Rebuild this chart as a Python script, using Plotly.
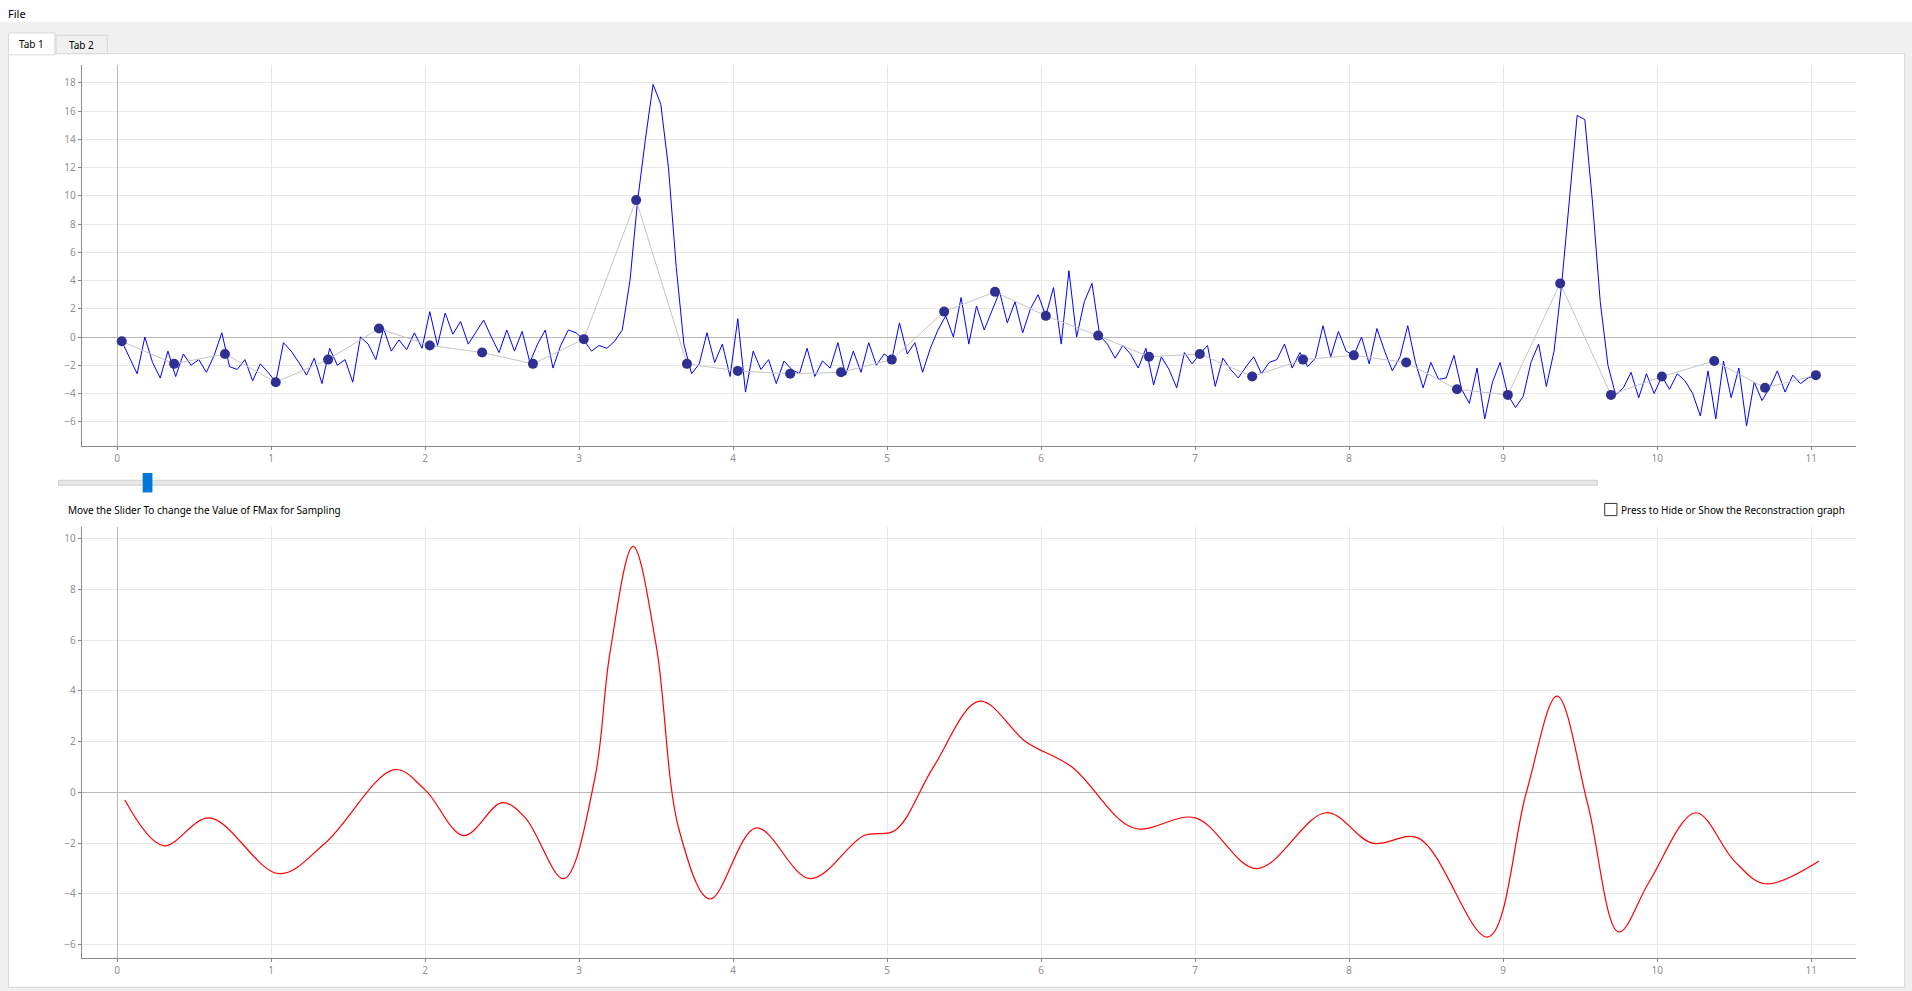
import plotly.graph_objects as go

# sampled signal (blue) at 0.05 steps from 0.03
signal_start = 0.03
signal_step = 0.05
signal = [
    -0.3, -1.5, -2.6, 0.0, -1.8, -2.9, -1.0, -2.8, -1.2, -2.0, -1.6, -2.5, -1.3, 0.3, -2.1, -2.3, -1.6, -3.1, -1.9, -2.5,
    -3.2, -0.4, -1.0, -1.8, -2.7, -1.5, -3.3, -0.8, -2.0, -1.6, -3.2, 0.0, -0.5, -1.6, 0.6, -1.0, -0.2, -0.9, 0.3, -0.8,
    1.8, -0.6, 1.7, 0.2, 1.1, -0.5, 0.4, 1.2, 0.0, -1.1, 0.5, -1.0, 0.4, -1.8, -0.5, 0.5, -2.2, -0.6, 0.5, 0.3,
    -0.2, -1.0, -0.6, -0.8, -0.3, 0.5, 4.0, 9.7, 14.0, 17.9, 16.5, 12.0, 5.0, -0.5, -2.6, -1.9, 0.3, -1.8, -0.5, -2.8,
    1.3, -3.9, -1.0, -2.3, -1.6, -3.3, -1.7, -2.3, -2.6, -0.8, -2.8, -1.7, -2.2, -0.4, -2.7, -1.0, -2.5, -0.4, -2.0, -1.2,
    -1.6, 1.0, -1.2, -0.4, -2.5, -0.8, 0.5, 1.5, 0.0, 2.8, -0.5, 2.2, 0.5, 1.8, 3.2, 1.0, 2.5, 0.3, 2.0, 3.0,
    1.5, 3.5, -0.5, 4.7, 0.0, 2.5, 3.8, 0.1, -0.5, -1.5, -0.6, -1.2, -2.2, -0.8, -3.4, -1.4, -2.3, -3.6, -1.1, -1.9,
    -1.2, -0.6, -3.5, -1.5, -2.3, -2.9, -2.1, -1.4, -2.6, -1.8, -1.6, -0.5, -2.2, -1.1, -2.1, -1.5, 0.8, -1.4, 0.4, -1.0,
    -1.3, 0.0, -1.9, 0.6, -1.0, -2.4, -1.4, 0.8, -1.8, -3.6, -1.8, -3.0, -2.9, -1.3, -3.7, -4.7, -2.2, -5.8, -3.2, -1.8,
    -4.1, -5.0, -4.2, -1.8, -0.5, -3.5, -1.0, 3.8, 10.0, 15.7, 15.4, 9.5, 2.5, -2.0, -4.1, -3.6, -2.5, -4.3, -2.6, -4.0,
    -2.8, -3.7, -2.6, -3.1, -4.0, -5.6, -2.4, -5.8, -1.7, -4.3, -2.2, -6.3, -3.2, -4.5, -3.6, -2.4, -3.9, -2.7, -3.3, -2.9,
    -2.7,
]
signal_x = [round(signal_start + i * signal_step, 3) for i in range(len(signal))]

sample_x = [0.03, 0.37, 0.70, 1.03, 1.37, 1.70, 2.03, 2.37, 2.70, 3.03, 3.37, 3.70, 4.03, 4.37, 4.70, 5.03, 5.37,
            5.70, 6.03, 6.37, 6.70, 7.03, 7.37, 7.70, 8.03, 8.37, 8.70, 9.03, 9.37, 9.70, 10.03, 10.37, 10.70, 11.03]
sample_y = [-0.3, -1.9, -1.2, -3.2, -1.6, 0.6, -0.6, -1.1, -1.9, -0.15, 9.7, -1.9, -2.4, -2.6, -2.5, -1.6, 1.8,
            3.2, 1.5, 0.1, -1.4, -1.2, -2.8, -1.6, -1.3, -1.8, -3.7, -4.1, 3.8, -4.1, -2.8, -1.7, -3.6, -2.7]

recon_x = [0.05, 0.3, 0.6, 1.05, 1.35, 1.8, 2.0, 2.25, 2.5, 2.65, 2.9, 3.1, 3.2, 3.35, 3.5, 3.65, 3.85,
           4.15, 4.5, 4.85, 5.05, 5.3, 5.6, 5.9, 6.2, 6.6, 7.0, 7.4, 7.85, 8.15, 8.45, 8.9, 9.15, 9.35, 9.55,
           9.75, 9.95, 10.25, 10.5, 10.7, 11.05]
recon_y = [-0.3, -2.1, -1.0, -3.2, -2.0, 0.9, 0.1, -1.7, -0.4, -1.0, -3.4, 0.5, 5.5, 9.7, 5.8, -1.5, -4.2,
           -1.4, -3.4, -1.7, -1.5, 1.0, 3.6, 2.0, 1.0, -1.4, -1.0, -3.0, -0.8, -2.0, -1.8, -5.7, 0.0, 3.8, -0.5,
           -5.5, -3.5, -0.8, -2.7, -3.6, -2.7]

x_ticks = list(range(12))
top_ticks = list(range(-6, 19, 2))
bottom_ticks = list(range(-6, 11, 2))

W, H = 1568.0, 813.0


def px(v):
    return v / W


def py(v):
    return 1 - v / H


fig = go.Figure()
fig.add_trace(go.Scatter(x=signal_x, y=signal, mode="lines", line=dict(color="#0000ff", width=1),
                         xaxis="x", yaxis="y", hoverinfo="skip"))
fig.add_trace(go.Scatter(x=sample_x, y=sample_y, mode="lines+markers", line=dict(color="#c4c4c4", width=1),
                         marker=dict(color="#2e3192", size=10), xaxis="x", yaxis="y"))
fig.add_trace(go.Scatter(x=recon_x, y=recon_y, mode="lines", line=dict(color="#ff0000", width=1.2, shape="spline",
                         smoothing=1.0), xaxis="x2", yaxis="y2"))

tick_font = dict(family="Noto Sans", size=10, color="#909090")
ax_common = dict(showgrid=True, gridcolor="#e8e8e8", showline=True, linecolor="#8a8a8a", linewidth=1,
                 zeroline=True, zerolinecolor="#b8b8b8", zerolinewidth=1, tickfont=tick_font,
                 ticks="outside", ticklen=3, tickcolor="#8a8a8a", fixedrange=True)
xr = [-0.23, 11.29]

shapes = [
    dict(type="rect", xref="paper", yref="paper", x0=0, x1=1, y0=0, y1=py(18), fillcolor="#f0f0f0",
         line=dict(width=0), layer="below"),
    dict(type="rect", xref="paper", yref="paper", x0=px(7), x1=px(1562), y0=py(810), y1=py(44),
         fillcolor="#ffffff", line=dict(color="#d9d9d9", width=1), layer="below"),
    dict(type="rect", xref="paper", yref="paper", x0=px(46), x1=px(88), y0=py(44), y1=py(29),
         fillcolor="#f0f0f0", line=dict(color="#d9d9d9", width=1), layer="below"),
    dict(type="rect", xref="paper", yref="paper", x0=px(7), x1=px(45), y0=py(45), y1=py(27),
         fillcolor="#ffffff", line=dict(color="#d9d9d9", width=1), layer="below"),
    # slider groove and handle
    dict(type="rect", xref="paper", yref="paper", x0=px(48), x1=px(1310), y0=py(398), y1=py(394),
         fillcolor="#e7e7e7", line=dict(color="#d0d0d0", width=1)),
    dict(type="rect", xref="paper", yref="paper", x0=px(117), x1=px(125), y0=py(404), y1=py(388),
         fillcolor="#0078d7", line=dict(width=0)),
    # checkbox
    dict(type="rect", xref="paper", yref="paper", x0=px(1316), x1=px(1326), y0=py(423), y1=py(413),
         fillcolor="#ffffff", line=dict(color="#333333", width=1)),
]

txt = dict(family="Noto Sans", size=10, color="#000000")


def label(text, x, y, anchor="left", font=txt):
    return dict(text=text, x=px(x), y=py(y), xref="paper", yref="paper", xanchor=anchor,
                yanchor="middle", showarrow=False, font=font)


annotations = [
    label("File", 5, 11, font=dict(family="Noto Sans", size=11, color="#000000")),
    label("Tab 1", 26, 36, anchor="center"),
    label("Tab 2", 67, 37, anchor="center"),
    label("Move the Slider To change the Value of FMax for Sampling", 54, 418),
    label("Press to Hide or Show the Reconstraction graph", 1328, 418),
]

fig.update_layout(
    width=1912, height=991, margin=dict(l=0, r=0, t=0, b=0),
    paper_bgcolor="#ffffff", plot_bgcolor="rgba(0,0,0,0)", showlegend=False,
    xaxis=dict(ax_common, domain=[px(67), px(1522)], range=xr, tickvals=x_ticks, anchor="y"),
    yaxis=dict(ax_common, domain=[py(366), py(53)], range=[-7.73, 19.3], tickvals=top_ticks, anchor="x"),
    xaxis2=dict(ax_common, domain=[px(67), px(1522)], range=xr, tickvals=x_ticks, anchor="y2"),
    yaxis2=dict(ax_common, domain=[py(786), py(432)], range=[-6.53, 10.48], tickvals=bottom_ticks, anchor="x2"),
    shapes=shapes, annotations=annotations,
)

fig.write_html("out.html", config={"displayModeBar": False},
               post_script="document.body.style.margin='0';document.body.style.overflow='hidden';")
